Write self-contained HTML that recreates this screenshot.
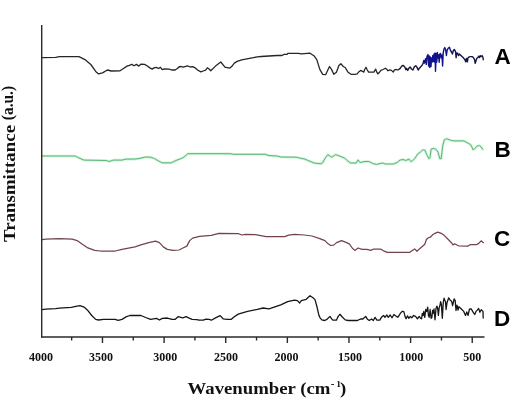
<!DOCTYPE html>
<html><head><meta charset="utf-8"><style>
html,body{margin:0;padding:0;background:#fff;}
body{width:512px;height:400px;overflow:hidden;}
svg{display:block;}
.ser{font-family:"Liberation Serif","Times New Roman",serif;font-weight:bold;}
.san{font-family:"Liberation Sans",Arial,sans-serif;font-weight:bold;}
</style></head><body>
<svg width="512" height="400" viewBox="0 0 512 400">
<defs><linearGradient id="ga" gradientUnits="userSpaceOnUse" x1="399" y1="0" x2="484" y2="0">
<stop offset="0" stop-color="#1a1a2c"/><stop offset="0.24" stop-color="#16163a"/><stop offset="0.33" stop-color="#12128c"/><stop offset="0.55" stop-color="#12128c"/><stop offset="0.68" stop-color="#141450"/><stop offset="1" stop-color="#14143c"/></linearGradient></defs>
<rect width="512" height="400" fill="#fff"/>
<g fill="none" stroke-linejoin="round" stroke-linecap="round">
<polyline points="42,57.7 55.6,57.3 59.5,56.7 79,56.7 84.9,59.6 90.8,64.5 95.7,71.4 98.6,73.9 102.5,72.9 107.4,70 111.3,71 120,70.8 123.5,68.5 127,66.1 129.4,65.3 131.7,64.4 134.1,65.8 136.4,64.4 138.8,66.1 141.1,64.1 144.6,64.4 147,65.8 149.9,67.9 152.2,69.1 154,67.9 156.3,67.3 158.7,68.5 160.4,67.3 162.2,69.7 164.5,68.8 169.2,69.1 171.6,70 175.1,70 177.4,68.5 179.2,66.7 179.9,67 180.3,66.3 183.3,67.2 187.4,65.8 190.3,67 192.7,66.7 195.6,68.2 197.9,70.2 200.9,71.9 203.2,71 205.6,70.2 207.3,67.8 209.1,69 210.8,70.8 215.5,66.1 220.8,62 223.1,64.9 224.9,67.2 229.6,68.2 231.9,66.3 234.3,63.1 237.2,61.4 241.7,59.8 249.5,58.4 257.3,56.9 261.25,56.5 276.9,55.5 282,55.5 284,54.4 287,54.4 288,53.3 298.4,53.3 301.3,53.9 310,53.2 313.9,55.7 316.8,59.6 319.8,69.4 322.7,74.3 325.6,74.7 327.6,70.4 329.5,66.5 331.5,69.4 333.8,74.3 336.4,72.3 338.9,65.5 340.9,63.6 343.2,66.5 345.2,67.5 348.1,72.3 351,74.3 355,74.3 357.2,73.9 359,71.7 360.7,70.4 362.5,71.3 363.8,72.1 364.7,69.5 366,67.3 367.3,70 368.6,72.1 370.4,72.1 372.1,72.1 373.9,72.1 375.7,69.1 376.8,72.1 377.8,73.9 379.2,72.6 380.9,70.4 383.1,69.5 385.3,68.2 386.6,69.1 388,70.8 389.7,69.9 391.5,70.4 393.2,72.1 394.5,69.9 396.3,69.5 397.8,70 399.9,68.6" stroke="#262626" stroke-width="1.3"/>
<polyline points="399.9,68.6 402,65.8 403.4,65.5 404.8,66.9 405.9,69.7 406.6,68.3 407.7,70.4 409.1,67.9 410.1,66.9 411.5,69 412.9,70 414.3,66.9 415.7,65.8 416.8,66.9 418.2,70 419.6,67.9 421,66.5 422.1,65.1 423.1,63.4 423.8,60.5 424.5,63 425.6,58.8 426.3,64.4 427,56.3 428,54.6 428.6,66 429.2,56 429.8,67.5 430.4,57 431,66.5 431.6,58 432.2,62 432.8,55.5 433.4,61.5 434,54 434.5,62 435,53 435.5,71.25 436.2,53.5 436.8,62 437.4,52.5 438,58 438.6,55 439.2,62.25 439.8,54 440.5,53.5 441.2,58 442,55 442.6,66 443.2,53 444,49 444.8,47.6 445.6,49.5 446.4,55.5 447.2,50 448,48.5 449.4,47.25 450.5,50.5 451.5,52 452.4,54 453.2,51 454.25,49.5 455,50.5 455.6,52 456.1,57.75 456.8,53 457.6,53.25 458.5,55.5 459.5,54 459.9,54.4 461.75,56.25 463.6,58.1 464.9,59.7 465.8,61.9 466.4,58.4 467.4,61.9 468,57.8 469.25,56.9 470.5,56.6 472,56.6 473,57.2 473.9,58.4 474.6,59.7 475.2,63.4 476.1,60.6 476.75,58.4 478,57.5 478.6,56.25 479.6,57.5 480.2,55.6 481.1,56.6 482,55.6 483,57.5 483.3,59.7" stroke="url(#ga)" stroke-width="1.4"/>
<polyline points="42,156 75.2,156 79,158 84,160.1 106.4,160.5 109.3,161.5 113.2,160.1 122,160.1 126,159.1 133.75,159.1 138.9,158.6 145.7,157 150.6,157.2 154.5,158.6 158.4,160.9 162.3,162.85 171.1,162.85 176,160.5 180.9,158.6 183.8,157.2 187.7,153.7 230,153.7 233.9,154.3 265.2,154.3 269,155.6 276.9,156 280.8,157 296.4,157.2 300.3,158.2 304.2,158.9 308.1,160.5 314,163 320.8,163.8 322.9,162.5 324.9,158.6 327.8,154.6 331.7,157.2 335.6,154.6 339.5,156 344.4,158 347.3,160.5 350.3,163 356.1,163 358.1,159.9 360,162.5 364.9,161.5 368.8,161.5 372.7,163.4 376.6,164.4 382.5,163 385.4,164 393.2,164 397.1,162.5 400,160.1 403,159.5 405.9,160.5 408.9,159 410.8,161.5 412.3,160.9 414.7,158.6 417.8,153.9 420.2,152.3 422.5,150 424.8,150 427.2,155.5 428.75,158.6 430,157.8 431.1,149.2 433.4,148.4 435.8,149.2 438.1,152.3 439.7,158.6 441.25,158.6 442.8,145.3 444.4,139.8 446.7,138.75 450.6,140.2 453.75,140.9 463.9,140.9 467.8,143 470.9,145 473.3,150 474.8,148.4 477.2,146.1 479.5,145.6 481.1,146.9 482.7,149.2" stroke="#ccf4d4" stroke-width="2.6"/>
<polyline points="42,156 75.2,156 79,158 84,160.1 106.4,160.5 109.3,161.5 113.2,160.1 122,160.1 126,159.1 133.75,159.1 138.9,158.6 145.7,157 150.6,157.2 154.5,158.6 158.4,160.9 162.3,162.85 171.1,162.85 176,160.5 180.9,158.6 183.8,157.2 187.7,153.7 230,153.7 233.9,154.3 265.2,154.3 269,155.6 276.9,156 280.8,157 296.4,157.2 300.3,158.2 304.2,158.9 308.1,160.5 314,163 320.8,163.8 322.9,162.5 324.9,158.6 327.8,154.6 331.7,157.2 335.6,154.6 339.5,156 344.4,158 347.3,160.5 350.3,163 356.1,163 358.1,159.9 360,162.5 364.9,161.5 368.8,161.5 372.7,163.4 376.6,164.4 382.5,163 385.4,164 393.2,164 397.1,162.5 400,160.1 403,159.5 405.9,160.5 408.9,159 410.8,161.5 412.3,160.9 414.7,158.6 417.8,153.9 420.2,152.3 422.5,150 424.8,150 427.2,155.5 428.75,158.6 430,157.8 431.1,149.2 433.4,148.4 435.8,149.2 438.1,152.3 439.7,158.6 441.25,158.6 442.8,145.3 444.4,139.8 446.7,138.75 450.6,140.2 453.75,140.9 463.9,140.9 467.8,143 470.9,145 473.3,150 474.8,148.4 477.2,146.1 479.5,145.6 481.1,146.9 482.7,149.2" stroke="#5cb47c" stroke-width="1.0"/>
<polyline points="42,239.6 45.9,239.1 59.5,238.7 72.2,239.1 77.1,240.6 82,244 87.9,247.9 94.7,250.4 100.5,251 115.2,251 122,249.4 129.8,247.9 135,246.9 140.9,244.9 148.7,242.6 155.5,241.2 159.4,242.6 163.3,246.9 167.2,249.4 173.1,250.4 179,250 182.9,248 186.8,246.1 189.7,240.6 192.6,238.1 199.5,236.3 211.2,235.35 219,233.4 238.8,233.7 241.7,235 245.6,234.3 255.4,234.6 266.1,236.6 284.7,236.6 288.6,235.2 294.5,234.3 304.2,235 312,236 319.8,238.6 324.9,240.6 327.8,243.6 330.7,245.5 333.7,245.1 336.6,242.6 341.5,240.6 345.4,242.2 349.3,243.9 352.2,248 354.8,250.4 358.1,248 362,249.4 366.9,249.4 370.8,250.4 373.7,249 380.5,249 383.5,250.8 387.4,252.3 409.8,252.3 412.3,250.5 414.7,248.9 417,251.25 419.4,248.9 422.5,246.25 424.8,244.2 426.4,239.5 428,238 430.3,237.2 432.7,234.8 435,233.3 437.8,232.2 441.25,233.3 444.4,235.6 448.3,239.5 451.4,242.7 453,245 454.5,243.75 458.4,245.8 467.8,246.1 470.2,244.7 476.4,244.7 478.75,243.4 481.1,240.8 483.4,242.7" stroke="#74424a" stroke-width="1.25"/>
<polyline points="42,309.6 45.9,309.1 55.6,308.7 59.5,308.1 71.25,307.3 77.1,306.1 80,305.7 84,307.1 87.9,310.6 91.75,315.5 95.7,319.4 98.6,320 103.5,319.4 115.2,319.4 118.1,320.4 122,319.4 126,316.9 129.8,315.5 136.7,315.5 140.9,315.5 145.7,317.5 150.6,319.4 156.5,318.4 159.4,320 162.3,318.4 167.2,318 172.1,319.4 175,319.4 178,316.7 182.7,317.9 186.2,316.7 188.6,317.9 192.1,319.3 196.8,319.7 199.1,320.2 203.2,320.2 206.1,319.1 209.1,319.3 211.4,320.2 215.5,317.9 220.2,315.6 223.1,318.8 227.2,319.3 231.3,319.3 234.3,316.7 237.8,314.4 239.8,313.7 247.6,311.4 257.3,309.4 263.2,308 269,308.8 274.9,306.9 280.8,304.9 287.6,301.6 294.5,300.2 297.4,300.6 299.7,303 301.3,300.6 306.2,299.3 310,295.7 313,297.7 315,299.6 316.9,306.5 318.9,315.3 320,317.6 321.8,319.9 324.7,320.5 327,319.3 330,316.4 331.7,318.8 332.9,320.2 336.4,320.2 338.2,316.4 339.9,314.3 342.3,317 345.2,319.9 348.1,320.5 357.5,320.5 360.4,319 362.8,319 365.7,316.4 367.5,319.3 369.2,320.5 371.6,319 373.3,320.5 375.1,317.4 376.9,320.2 379.8,320.2 381.75,316.9 383.6,315.5 385,317.3 386.9,315 388.3,317.3 390.2,315 392.1,317.8 393.9,314.5 395.8,315.9 397.7,317.3 399.1,315.5 400.5,313.1 402.4,311.25 403.8,311.7 405.2,316.9 406.1,318.75 407.5,315.9 408.9,318.3 410.3,316.4 411.75,317.8 413.6,315.5 415.5,316.4 417.4,318.75 419.25,316.4 420.6,318.3 420.9,318.3 421.6,318.78 422.3,313.4 423.05,315.56 423.8,311.5 424.8,317.3 425.7,309.5 426.7,311.49 427.7,307.1 428.45,315.61 429.2,317.3 430.1,309.5 431.1,318.3 431.85,317.51 432.6,310.5 433.3,313.13 434,309 435,319.8 436,308.6 437,306.1 437.7,308.71 438.4,315.4 439.15,307.8 439.9,305.6 440.65,301.68 441.4,304.6 442.3,318.3 443.3,302.2 444.05,298.25 444.8,300.25 445.45,301.52 446.1,309.5 447,302.7 448.7,297.8 450.2,300.25 451.6,301.2 452.6,305.6 454.1,298.8 455.2,300.7 456,310.5 457,305.1 458.1,310.1 458.9,306.6 461.1,308.8 463.75,311.4 465.5,315.4 466.8,311.9 468.1,315.4 469.4,309.25 471.2,308.8 472.9,311.9 474.7,314.5 476,311.4 477.3,310.1 478.6,308.4 479.9,312.3 481.25,309.7 483,311.4 483.2,318" stroke="#161616" stroke-width="1.3"/>
</g>
<g stroke="#2a2a2a" stroke-width="1.4" fill="none">
<line x1="41.7" y1="25" x2="41.7" y2="337.7"/>
<line x1="41" y1="337" x2="484.5" y2="337"/>
<line x1="71.66" y1="337" x2="71.66" y2="340.5" /><line x1="102.47" y1="337" x2="102.47" y2="343" /><line x1="133.28" y1="337" x2="133.28" y2="340.5" /><line x1="164.10" y1="337" x2="164.10" y2="343" /><line x1="194.91" y1="337" x2="194.91" y2="340.5" /><line x1="225.73" y1="337" x2="225.73" y2="343" /><line x1="256.54" y1="337" x2="256.54" y2="340.5" /><line x1="287.36" y1="337" x2="287.36" y2="343" /><line x1="318.17" y1="337" x2="318.17" y2="340.5" /><line x1="348.98" y1="337" x2="348.98" y2="343" /><line x1="379.80" y1="337" x2="379.80" y2="340.5" /><line x1="410.61" y1="337" x2="410.61" y2="343" /><line x1="441.43" y1="337" x2="441.43" y2="340.5" /><line x1="472.24" y1="337" x2="472.24" y2="343" />
</g>
<g class="ser" font-size="12" fill="#111">
<text x="40.90" y="360.5" text-anchor="middle">4000</text><text x="101.00" y="360.5" text-anchor="middle">3500</text><text x="165.20" y="360.5" text-anchor="middle">3000</text><text x="225.90" y="360.5" text-anchor="middle">2500</text><text x="286.40" y="360.5" text-anchor="middle">2000</text><text x="350.00" y="360.5" text-anchor="middle">1500</text><text x="411.30" y="360.5" text-anchor="middle">1000</text><text x="472.30" y="360.5" text-anchor="middle">500</text>
</g>
<g class="ser" fill="#111">
<g transform="translate(187.535,393.5) scale(1.104,1)">
<text font-size="17" x="0" y="0">Wavenumber (cm</text>
<text font-size="10" x="129.68" y="-6.25">-</text>
<text font-size="8.5" x="134.79" y="-6.2">1</text>
<text font-size="17" x="138.19" y="0">)</text>
</g>
<text font-size="17" transform="translate(14.75,241.9) rotate(-90) scale(1.11,1)">Transmittance</text>
<text font-size="16.2" transform="translate(13.0,120.25) rotate(-90) scale(0.955,1)">(a.u.)</text>
</g>
<g class="san" font-size="22.5" fill="#000">
<text x="494.4" y="64">A</text>
<text x="494.4" y="156.9">B</text>
<text x="494.1" y="246">C</text>
<text x="493.9" y="325.9">D</text>
</g>
</svg>
</body></html>
